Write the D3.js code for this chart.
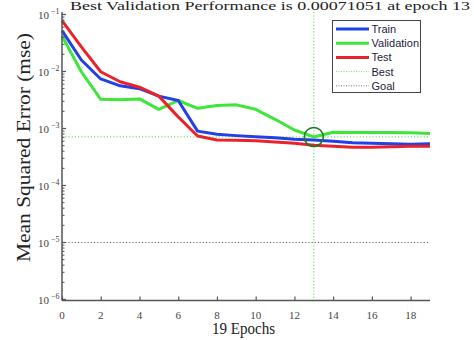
<!DOCTYPE html>
<html>
<head>
<meta charset="utf-8">
<script src="https://cdn.jsdelivr.net/npm/d3@7"></script>
<style>
  html, body { margin: 0; padding: 0; background: #fff; }
  svg { display: block; }
</style>
</head>
<body>
<svg id="chart" width="474" height="340"></svg>
<script>
// Training record: mean squared error per epoch
const epochs = d3.range(0, 20);
const epochCount = 19;
const trainPerf = [0.052, 0.0159, 0.0074, 0.0056, 0.005, 0.0037, 0.0031, 0.0009, 0.00079, 0.00075,
                   0.00072, 0.00069, 0.00065, 0.00063, 0.0006, 0.00056, 0.00055, 0.00054, 0.00053, 0.00054];
const valPerf   = [0.042, 0.0099, 0.00325, 0.0032, 0.0033, 0.00217, 0.0031, 0.00226, 0.00254, 0.0026,
                   0.00217, 0.00145, 0.00094, 0.00071051, 0.00086, 0.00085, 0.00085, 0.00085, 0.00084, 0.00082];
const testPerf  = [0.078, 0.027, 0.0099, 0.0066, 0.0053, 0.0037, 0.0016, 0.00074, 0.00063, 0.00062,
                   0.00061, 0.00058, 0.00055, 0.00051, 0.00049, 0.00047, 0.00047, 0.00048, 0.00049, 0.00049];
const bestEpoch = 13;
const bestPerf = 0.00071051;
const goalPerf = 1e-5;
const xTicks = [0, 2, 4, 6, 8, 10, 12, 14, 16, 18];
const yTickExps = [-1, -2, -3, -4, -5, -6];
const seriesNames = ["Train", "Validation", "Test", "Best", "Goal"];

const svg = d3.select("#chart");
const serif = "'Liberation Serif', 'DejaVu Serif', serif";
const axisColor = "#555";

const x = d3.scaleLinear().domain([0, 19]).range([62, 430]);
const y = d3.scaleLog().domain([1e-6, 1e-1]).range([299.5, 14.5]);
const plotTop = 12, plotBottom = 300.5;

// Reference lines: best epoch / best value (green dotted), goal (grey dotted)
svg.append("line")
  .attr("x1", x(bestEpoch)).attr("x2", x(bestEpoch))
  .attr("y1", plotTop).attr("y2", plotBottom)
  .attr("stroke", "#7bdc6f").attr("stroke-width", 1.2).attr("stroke-dasharray", "1.2,2");
svg.append("line")
  .attr("x1", x(0)).attr("x2", x(19))
  .attr("y1", y(bestPerf)).attr("y2", y(bestPerf))
  .attr("stroke", "#7bdc6f").attr("stroke-width", 1.2).attr("stroke-dasharray", "1.2,2");
svg.append("line")
  .attr("x1", x(0)).attr("x2", x(19))
  .attr("y1", y(goalPerf)).attr("y2", y(goalPerf))
  .attr("stroke", "#666").attr("stroke-width", 1.2).attr("stroke-dasharray", "1.2,2");

// Performance curves
const line = d3.line().x((d, i) => x(epochs[i])).y(d => y(d));
const curves = [
  { values: valPerf, color: "#3ee63a" },
  { values: trainPerf, color: "#2140e6" },
  { values: testPerf, color: "#e8242a" }
];
curves.forEach(c => {
  svg.append("path")
    .datum(c.values)
    .attr("d", line)
    .attr("fill", "none")
    .attr("stroke", c.color)
    .attr("stroke-width", 3)
    .attr("stroke-linejoin", "round");
});

// Best validation marker
svg.append("circle")
  .attr("cx", x(bestEpoch)).attr("cy", y(bestPerf)).attr("r", 9.5)
  .attr("fill", "none").attr("stroke", "#1d7a22").attr("stroke-width", 1.6);

// Axes
const xAxis = d3.axisBottom(x).tickValues(xTicks).tickSize(-4).tickFormat("");
const gx = svg.append("g").attr("transform", `translate(0,${plotBottom})`).call(xAxis);
gx.select(".domain").attr("stroke", axisColor).attr("stroke-width", 1.5).attr("d", `M${x(0)},0H${x(19)}`);
gx.selectAll(".tick line").attr("stroke", axisColor).attr("stroke-width", 1.2);

svg.append("g").selectAll("text").data(xTicks).join("text")
  .attr("x", d => x(d)).attr("y", 318.5)
  .attr("text-anchor", "middle")
  .attr("font-family", serif).attr("font-size", 11)
  .attr("fill", "#444")
  .text(d => d);

// Log y axis: major ticks at decades, minor ticks in between
const minorTicks = [];
for (let e = -6; e < -1; e++) {
  for (let m = 2; m <= 9; m++) minorTicks.push(m * Math.pow(10, e));
}
const gy = svg.append("g").attr("transform", `translate(${x(0)},0)`);
gy.append("line").attr("x1", 0).attr("x2", 0).attr("y1", plotTop).attr("y2", plotBottom)
  .attr("stroke", axisColor).attr("stroke-width", 1.5);
gy.selectAll("line.minor").data(minorTicks).join("line")
  .attr("class", "minor")
  .attr("x1", 0).attr("x2", 2.5)
  .attr("y1", d => y(d)).attr("y2", d => y(d))
  .attr("stroke", axisColor).attr("stroke-width", 1);
gy.selectAll("line.major").data(yTickExps).join("line")
  .attr("class", "major")
  .attr("x1", 0).attr("x2", 4)
  .attr("y1", d => y(Math.pow(10, d))).attr("y2", d => y(Math.pow(10, d)))
  .attr("stroke", axisColor).attr("stroke-width", 1.2);

const yLabels = svg.append("g").selectAll("text").data(yTickExps).join("text")
  .attr("x", 49).attr("y", d => y(Math.pow(10, d)) + 4)
  .attr("text-anchor", "end")
  .attr("font-family", serif).attr("font-size", 11)
  .attr("fill", "#444");
yLabels.append("tspan").text("10");
yLabels.append("tspan")
  .attr("x", 51).attr("dy", -5)
  .attr("text-anchor", "start")
  .attr("font-size", 8)
  .text(d => "\u2212" + Math.abs(d));

// Title, tucked into the strip above the plot
svg.append("text")
  .attr("x", 70).attr("y", 10)
  .attr("font-family", serif).attr("font-size", 12)
  .attr("textLength", 400).attr("lengthAdjust", "spacingAndGlyphs")
  .attr("fill", "#222")
  .text(`Best Validation Performance is ${bestPerf} at epoch ${bestEpoch}`);

// Axis titles
svg.append("text")
  .attr("x", 243.5).attr("y", 334)
  .attr("text-anchor", "middle")
  .attr("font-family", serif).attr("font-size", 16)
  .attr("textLength", 63).attr("lengthAdjust", "spacingAndGlyphs")
  .attr("fill", "#222")
  .text(`${epochCount} Epochs`);

svg.append("text")
  .attr("transform", "translate(30,147.5) rotate(-90)")
  .attr("text-anchor", "middle")
  .attr("font-family", serif).attr("font-size", 18)
  .attr("textLength", 229).attr("lengthAdjust", "spacingAndGlyphs")
  .attr("fill", "#222")
  .text("Mean Squared Error (mse)");

// Legend
const legend = svg.append("g");
legend.append("rect")
  .attr("x", 332.5).attr("y", 20.5).attr("width", 88).attr("height", 72)
  .attr("fill", "#fff").attr("stroke", "#444").attr("stroke-width", 1);
const legendItems = [
  { name: seriesNames[0], color: "#2140e6", width: 3, dash: null },
  { name: seriesNames[1], color: "#3ee63a", width: 3, dash: null },
  { name: seriesNames[2], color: "#e8242a", width: 3, dash: null },
  { name: seriesNames[3], color: "#7bdc6f", width: 1, dash: "1,1.5" },
  { name: seriesNames[4], color: "#777", width: 1, dash: "1,1.5" }
];
legendItems.forEach((item, i) => {
  const cy = 29 + i * 14.2;
  legend.append("line")
    .attr("x1", 336).attr("x2", 369).attr("y1", cy).attr("y2", cy)
    .attr("stroke", item.color).attr("stroke-width", item.width)
    .attr("stroke-dasharray", item.dash);
  legend.append("text")
    .attr("x", 371.5).attr("y", cy + 4)
    .attr("font-family", "'Liberation Sans', Arial, sans-serif").attr("font-size", 11)
    .attr("fill", "#1c1c3a")
    .text(item.name);
});
</script>
</body>
</html>
